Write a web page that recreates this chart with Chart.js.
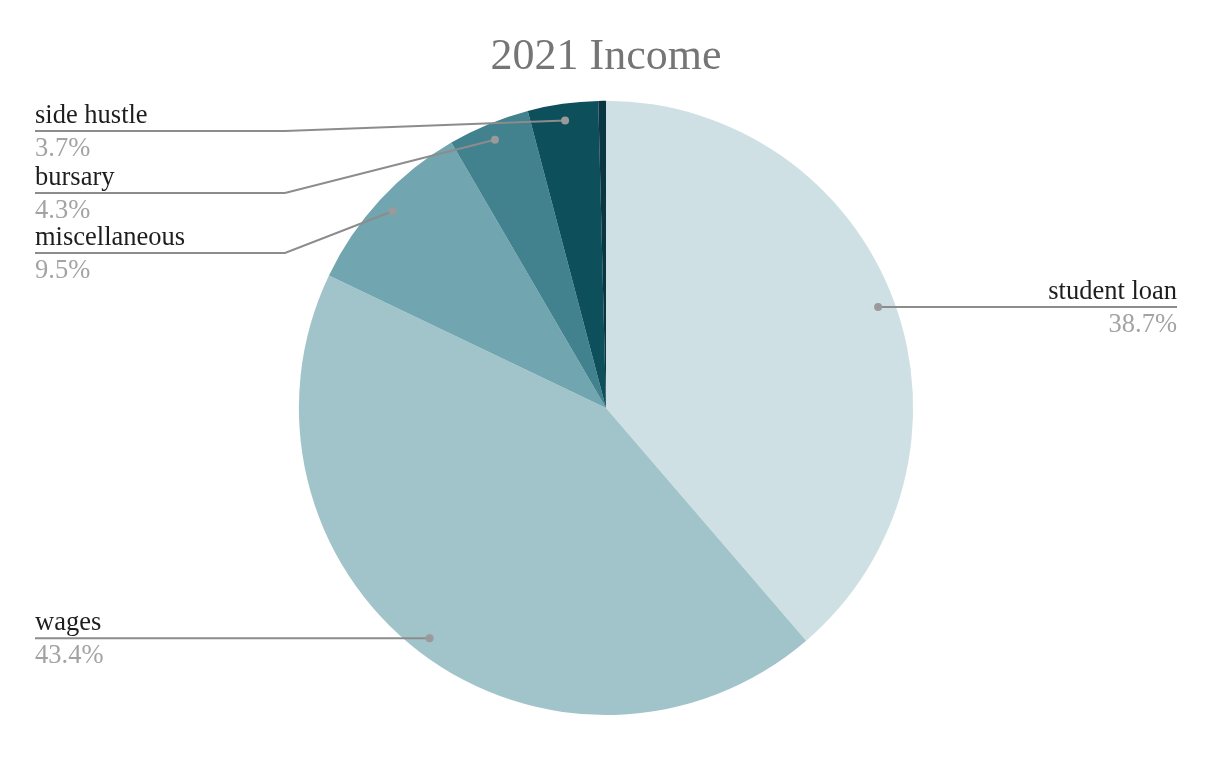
<!DOCTYPE html>
<html>
<head>
<meta charset="utf-8">
<script src="https://cdn.jsdelivr.net/npm/chart.js@4.4.1/dist/chart.umd.min.js"></script>
<style>
    html, body { margin: 0; padding: 0; background: #ffffff; }
    #wrap { width: 1230px; height: 757px; }
</style>
</head>
<body>
<div id="wrap"><canvas id="incomeChart" width="1230" height="757"></canvas></div>
<script>
// data, clockwise from 12 o'clock
const categorias = ['student loan', 'wages', 'miscellaneous', 'bursary', 'side hustle', ''];
const percentuais = [38.7, 43.4, 9.5, 4.3, 3.7, 0.4];
const cores = ['#cee0e4', '#a1c4cb', '#71a5b0', '#42818e', '#0e4f5c', '#0a3641'];
const titulo = '2021 Income';

// where each label goes (null = no label)
const posicoes = [
    { lado: 'right' },
    { lado: 'left' },
    { lado: 'left', linhaY: 253, cotoveloX: 285 },
    { lado: 'left', linhaY: 193, cotoveloX: 285 },
    { lado: 'left', linhaY: 131, cotoveloX: 285 },
    null
];

const fonte = '"Liberation Serif", "DejaVu Serif", serif';

const rotulosPlugin = {
    id: 'rotulos',
    afterDraw(chart) {
        const ctx = chart.ctx;
        const arcs = chart.getDatasetMeta(0).data;
        ctx.save();
        arcs.forEach((arc, i) => {
            const pos = posicoes[i];
            if (!pos) return;
            const meio = (arc.startAngle + arc.endAngle) / 2;
            const r = arc.outerRadius * 0.945;
            const px = arc.x + Math.cos(meio) * r;
            const py = arc.y + Math.sin(meio) * r;
            const linhaY = pos.linhaY !== undefined ? pos.linhaY : py;

            ctx.strokeStyle = '#8c8c8c';
            ctx.lineWidth = 2;
            ctx.beginPath();
            if (pos.lado === 'left') {
                ctx.moveTo(35, linhaY);
                if (pos.cotoveloX) ctx.lineTo(pos.cotoveloX, linhaY);
                ctx.lineTo(px, py);
            } else {
                ctx.moveTo(px, py);
                ctx.lineTo(1177, linhaY);
            }
            ctx.stroke();

            ctx.fillStyle = '#9a9a9a';
            ctx.beginPath();
            ctx.arc(px, py, 4, 0, Math.PI * 2);
            ctx.fill();

            ctx.font = '26.5px ' + fonte;
            ctx.textBaseline = 'alphabetic';
            ctx.textAlign = pos.lado === 'left' ? 'left' : 'right';
            const tx = pos.lado === 'left' ? 35 : 1177;
            ctx.fillStyle = '#1e1e1e';
            ctx.fillText(categorias[i], tx, linhaY - 8);
            ctx.fillStyle = '#a3a3a3';
            ctx.fillText(percentuais[i].toFixed(1) + '%', tx, linhaY + 25);
        });
        ctx.restore();
    }
};

const ctx = document.getElementById('incomeChart').getContext('2d');
new Chart(ctx, {
    type: 'pie',
    data: {
        labels: categorias,
        datasets: [{
            data: percentuais,
            backgroundColor: cores,
            borderWidth: 0,
            hoverOffset: 0
        }]
    },
    options: {
        responsive: false,
        animation: false,
        layout: {
            padding: { top: 0, bottom: 42, left: 0, right: 18 }
        },
        plugins: {
            legend: { display: false },
            tooltip: { enabled: false },
            title: {
                display: true,
                text: titulo,
                color: '#757575',
                font: { family: fonte, size: 44, weight: 'normal' },
                padding: { top: 31, bottom: 17 }
            }
        }
    },
    plugins: [rotulosPlugin]
});
</script>
</body>
</html>
